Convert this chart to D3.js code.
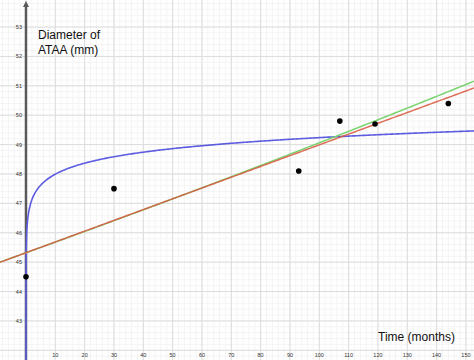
<!DOCTYPE html>
<html>
<head>
<meta charset="utf-8">
<script src="https://cdn.jsdelivr.net/npm/d3@7"></script>
<style>
  html, body { margin: 0; padding: 0; background: #fff; }
  svg { display: block; font-family: "Liberation Sans", Arial, sans-serif; }
</style>
</head>
<body>
<svg id="chart"></svg>
<script>
// measured points (months, mm)
const months    = [0, 30, 93, 107, 119, 144];
const diameters = [44.5, 47.5, 48.1, 49.8, 49.7, 50.4];

// fitted models
const logFit = [46.75, 0.54];      // a + b*ln(t)
const linFit = [45.32, 0.0367];    // a + b*t
const expFit = [45.32, 0.000793];  // a*exp(b*t)

const xTicks = [10, 20, 30, 40, 50, 60, 70, 80, 90, 100, 110, 120, 130, 140, 150];
const yTicks = [43, 44, 45, 46, 47, 48, 49, 50, 51, 52, 53];

const W = 474, H = 360;
const svg = d3.select("#chart").attr("width", W).attr("height", H);

const x = d3.scaleLinear().domain([-8.86, 152.75]).range([0, W]);
const y = d3.scaleLinear().domain([41.67, 53.92]).range([H, 0]);

// minor grid
const g = svg.append("g");
d3.range(-8, 154, 2).forEach(v => {
  g.append("line").attr("x1", x(v)).attr("x2", x(v)).attr("y1", 0).attr("y2", H)
    .attr("stroke", "#f4f4f4").attr("stroke-width", 1);
});
d3.range(41.8, 54, 0.2).forEach(v => {
  g.append("line").attr("x1", 0).attr("x2", W).attr("y1", y(v)).attr("y2", y(v))
    .attr("stroke", "#f4f4f4").attr("stroke-width", 1);
});
// major grid
d3.range(0, 160, 10).forEach(v => {
  g.append("line").attr("x1", x(v)).attr("x2", x(v)).attr("y1", 0).attr("y2", H)
    .attr("stroke", "#dcdcdc").attr("stroke-width", 1);
});
d3.range(42, 54, 1).forEach(v => {
  g.append("line").attr("x1", 0).attr("x2", W).attr("y1", y(v)).attr("y2", y(v))
    .attr("stroke", "#dcdcdc").attr("stroke-width", 1);
});

// y axis with arrow
svg.append("line")
  .attr("x1", x(0)).attr("x2", x(0)).attr("y1", 4).attr("y2", H)
  .attr("stroke", "#5a5a5a").attr("stroke-width", 2.5);
svg.append("path")
  .attr("d", `M${x(0) - 3},7 L${x(0)},1 L${x(0) + 3},7 Z`)
  .attr("fill", "#5a5a5a");

// tick labels
svg.append("g").selectAll("text").data(xTicks).join("text")
  .attr("x", d => x(d)).attr("y", 357)
  .attr("text-anchor", "middle")
  .attr("font-size", 5.5).attr("fill", "#333")
  .text(d => d);
svg.append("g").selectAll("text").data(yTicks).join("text")
  .attr("x", x(0) - 4).attr("y", d => y(d) + 2)
  .attr("text-anchor", "end")
  .attr("font-size", 5.5).attr("fill", "#333")
  .text(d => d);

// curves
const clip = svg.append("clipPath").attr("id", "plot");
clip.append("rect").attr("width", W).attr("height", H);
const curves = svg.append("g").attr("clip-path", "url(#plot)");

const line = d3.line().x(d => x(d[0])).y(d => y(d[1]));
const tLin = d3.range(-9, 154, 1);
const tLog = d3.range(-12, 0.01, 0.05).map(e => Math.exp(e))
  .concat(d3.range(1.5, 154, 0.5));

curves.append("path")
  .attr("d", line(tLog.map(t => [t, logFit[0] + logFit[1] * Math.log(t)])))
  .attr("fill", "none").attr("stroke", "#5c5ce0").attr("stroke-width", 1.6);
curves.append("path")
  .attr("d", line(tLin.map(t => [t, expFit[0] * Math.exp(expFit[1] * t)])))
  .attr("fill", "none").attr("stroke", "#79d36f").attr("stroke-width", 1.5);
curves.append("path")
  .attr("d", line(tLin.map(t => [t, linFit[0] + linFit[1] * t])))
  .attr("fill", "none").attr("stroke", "#d9573f").attr("stroke-width", 1.5)
  .attr("stroke-opacity", 0.85);

// points
svg.append("g").selectAll("circle").data(months).join("circle")
  .attr("cx", d => x(d)).attr("cy", (d, i) => y(diameters[i]))
  .attr("r", 2.8).attr("fill", "#000");

// axis titles
const yt = svg.append("text").attr("x", 38).attr("y", 39)
  .attr("font-size", 12).attr("fill", "#111");
yt.append("tspan").attr("x", 38).text("Diameter of");
yt.append("tspan").attr("x", 38).attr("dy", 14.5).text("ATAA (mm)");
svg.append("text").attr("x", 378).attr("y", 341)
  .attr("font-size", 12).attr("fill", "#111")
  .text("Time (months)");
</script>
</body>
</html>
